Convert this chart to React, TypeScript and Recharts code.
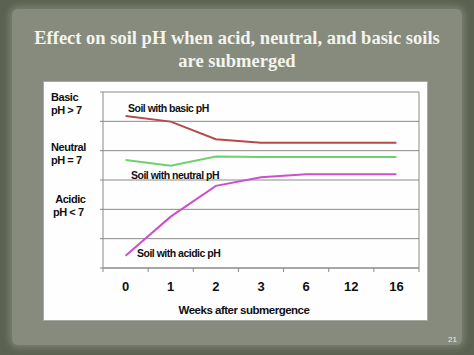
import { LineChart, Line, XAxis, YAxis, CartesianGrid, Label } from "recharts";

const weeks = ["0", "1", "2", "3", "6", "12", "16"];
const basicPh = [5.18, 4.99, 4.39, 4.27, 4.27, 4.27, 4.27];
const neutralPh = [3.68, 3.49, 3.8, 3.78, 3.78, 3.78, 3.78];
const acidicPh = [0.42, 1.75, 2.8, 3.09, 3.2, 3.2, 3.2];

const yTicks = [0, 1, 2, 3, 4, 5, 6];
const bandEdges = [-0.5, 0.5, 1.5, 2.5, 3.5, 4.5, 5.5, 6.5];
const centers = weeks.map((_, i) => i);

const data = weeks.map((w, i) => ({
  i,
  week: w,
  basic: basicPh[i],
  neutral: neutralPh[i],
  acidic: acidicPh[i],
}));

const sans = "'Liberation Sans', Arial, sans-serif";

const sideLabel = (top: number, left: number, text: string, size = 11) => (
  <div
    style={{
      position: "absolute",
      top,
      left,
      fontFamily: sans,
      fontWeight: 700,
      fontSize: size,
      lineHeight: "13px",
      letterSpacing: size < 11 ? -0.5 : -0.45,
      color: "#111",
      whiteSpace: "pre",
    }}
  >
    {text}
  </div>
);

export default function App() {
  return (
    <div
      style={{
        position: "absolute",
        left: 0,
        top: 0,
        width: 474,
        height: 355,
        background: "#5c6251",
        overflow: "hidden",
      }}
    >
      {/* lighter slide panel */}
      <div
        style={{
          position: "absolute",
          left: 12,
          top: 9,
          width: 450,
          height: 336,
          background: "#878b7d",
          borderRadius: 6,
          boxShadow: "0 0 6px 3px #7a7f70",
        }}
      />
      <div
        style={{
          position: "absolute",
          top: 27,
          left: 0,
          width: 474,
          textAlign: "center",
          fontFamily: "'Liberation Serif', 'DejaVu Serif', serif",
          fontWeight: 700,
          fontSize: 18.5,
          lineHeight: "23px",
          color: "#f4f4ee",
        }}
      >
        Effect on soil pH when acid, neutral, and basic soils
        <br />
        are submerged
      </div>

      <div
        style={{
          position: "absolute",
          left: 43,
          top: 81,
          width: 383,
          height: 238,
          background: "#fefefe",
          border: "1px solid #a9aaa3",
        }}
      >
        <LineChart
          width={383}
          height={238}
          data={data}
          margin={{ top: 10, right: 0, left: 0, bottom: 0 }}
        >
          <CartesianGrid horizontal vertical={false} stroke="#8a8a8a" />
          <XAxis
            dataKey="i"
            type="number"
            domain={[-0.5, 6.5]}
            ticks={bandEdges}
            tickFormatter={() => ""}
            tickSize={4}
            stroke="#8a8a8a"
            height={6}
          />
          <XAxis
            xAxisId="lab"
            dataKey="i"
            type="number"
            domain={[-0.5, 6.5]}
            ticks={centers}
            tickFormatter={(v: number) => weeks[v]}
            tickLine={false}
            axisLine={false}
            height={46}
            tick={{ fontFamily: sans, fontWeight: 700, fontSize: 13, fill: "#111" }}
          >
            <Label
              value="Weeks after submergence"
              position="insideBottom"
              offset={6}
              dx={-17}
              style={{
                fontFamily: sans,
                fontWeight: 700,
                fontSize: 11.5,
                letterSpacing: -0.5,
                fill: "#111",
              }}
            />
          </XAxis>
          <YAxis
            domain={[0, 6]}
            ticks={yTicks}
            tickFormatter={() => ""}
            tickSize={3}
            width={59}
            stroke="#8a8a8a"
          />
          <YAxis
            yAxisId="r"
            orientation="right"
            domain={[0, 6]}
            tick={false}
            width={8}
            stroke="#8a8a8a"
          />
          <Line
            dataKey="basic"
            stroke="#b54a4a"
            strokeWidth={2}
            dot={false}
            isAnimationActive={false}
          />
          <Line
            dataKey="neutral"
            stroke="#6fd06f"
            strokeWidth={2}
            dot={false}
            isAnimationActive={false}
          />
          <Line
            dataKey="acidic"
            stroke="#cc4fcc"
            strokeWidth={2}
            dot={false}
            isAnimationActive={false}
          />
        </LineChart>
        {sideLabel(9, 7, "Basic\npH > 7")}
        {sideLabel(59, 7, "Neutral\npH = 7")}
        {sideLabel(111, 9, " Acidic\npH < 7")}
        {sideLabel(20, 84, "Soil with basic pH", 10.5)}
        {sideLabel(87, 87, "Soil with neutral pH", 10.5)}
        {sideLabel(165, 93, "Soil with acidic pH", 10.5)}
      </div>

      <div
        style={{
          position: "absolute",
          left: 448,
          top: 335,
          fontFamily: sans,
          fontSize: 8,
          color: "#f0f0e0",
        }}
      >
        21
      </div>
    </div>
  );
}
